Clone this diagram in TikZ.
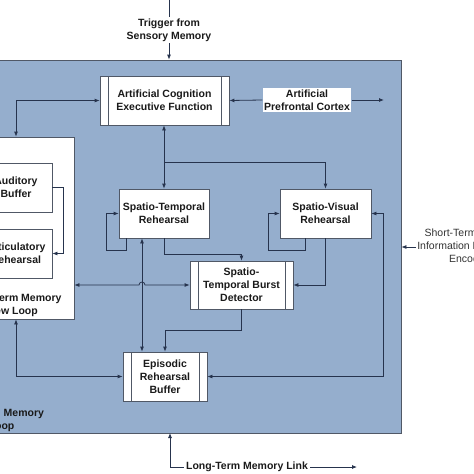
\documentclass[tikz,border=0pt]{standalone}
\usepackage{fontspec}
\setmainfont{Liberation Sans}
\usetikzlibrary{arrows.meta,calc}

\definecolor{wmblue}{HTML}{95AECD}
\definecolor{linkcol}{HTML}{26334D}
\definecolor{edgecol}{HTML}{505866}
\definecolor{textcol}{HTML}{1A1A1A}

\begin{document}
\begin{tikzpicture}[x=1pt, y=-1pt, text=textcol,
		font=\fontsize{10.5}{13}\selectfont\bfseries,
		>={Latex[length=5pt,width=4pt]},
		link/.style={draw=linkcol, line width=0.8pt},
		box/.style={draw=edgecol, fill=white, line width=0.8pt, align=center, inner sep=0pt},
		procbox/.style={box, path picture={
				\draw[edgecol, line width=0.8pt]
				([xshift=8pt]path picture bounding box.north west) -- ([xshift=8pt]path picture bounding box.south west)
				([xshift=-8pt]path picture bounding box.north east) -- ([xshift=-8pt]path picture bounding box.south east);}},
		tag/.style={fill=white, align=center, inner sep=1.5pt}]
		
		\useasboundingbox (0,0) rectangle (474,474);
		\clip (0,0) rectangle (474,474);
		
		% 1. Working memory area (blue, runs off the left edge)
		\node[draw=edgecol, fill=wmblue, line width=0.8pt, minimum width=501pt, minimum height=373pt, inner sep=0pt] (wm) at (150.5,246.5) {};
		\node[align=center] (wmlabel) at (1.5,420.5) {Working Memory\\Loop};
		
		% 2. Short-term memory loop (white, left)
		\node[box, minimum width=116pt, minimum height=182pt] (stm) at (16,228) {};
		\node[box, minimum width=72pt, minimum height=49pt] (aud) at (16,187.5) {Auditory\\Buffer};
		\node[box, minimum width=72pt, minimum height=49pt] (art) at (16,253.5) {Articulatory\\Rehearsal};
		\node[align=left, anchor=west] (stmlabel) at (-41,305) {Short-Term Memory\\Overview Loop};
		
		% 3. Main blocks
		\node[procbox, minimum width=129pt, minimum height=49pt] (acef) at (164.5,100.5) {Artificial Cognition\\Executive Function};
		\node[box, minimum width=90pt, minimum height=49pt] (str) at (164,213.5) {Spatio-Temporal\\Rehearsal};
		\node[box, minimum width=91pt, minimum height=49pt] (svr) at (325.5,213.5) {Spatio-Visual\\Rehearsal};
		\node[procbox, minimum width=103pt, minimum height=48pt] (stbd) at (241.5,285) {Spatio-\\Temporal Burst\\Detector};
		\node[procbox, minimum width=84pt, minimum height=49pt] (erb) at (165,376.5) {Episodic\\Rehearsal\\Buffer};
		
		% 4. Outside links
		\coordinate (trig) at (169,0);
		\draw[link, ->] (trig) -- (trig |- wm.north) node[tag, midway] (triglabel) {Trigger from\\Sensory Memory};
		
		\node[tag] (apc) at (307,100) {Artificial\\Prefrontal Cortex};
		\coordinate (apcend) at (384,100);
		\draw[link, ->] (apc.west) -- (acef.east);
		\draw[link, ->] (apc.east) -- (apcend);
		
		\node[align=center, inner sep=1pt, font=\fontsize{10.5}{13}\selectfont\mdseries, text=black!80] (sti) at (471,247) {Short-Term Memory\\Information Processing\\Encoding};
		\draw[link, ->] (sti.west) -- (sti.west -| wm.east);
		
		\node[inner sep=2pt] (ltm) at (247,467) {Long-Term Memory Link};
		\coordinate (ltmin) at (170,433);
		\coordinate (ltmend) at (357,467);
		\draw[link, ->] (ltm.west) -| (ltmin);
		\draw[link, ->] (ltm.east) -- (ltmend);
		
		% 5. Inner links
		\draw[link, <->] (acef.west) -| (stm.north);
		\draw[link, <->] (acef.south -| str.north) -- (str.north);
		\coordinate (fork) at (164,162);
		\draw[link, ->] (fork) -| (svr.north);
		
		\draw[link, ->] (aud.east) -- ++(11,0) |- (art.east);
		
		% self loops
		\draw[link, ->] ([xshift=-38pt]str.south) -- ++(0,12) -| ([xshift=-12pt]str.west) -- (str.west);
		\draw[link, ->] ([xshift=-20pt]svr.south) -- ++(0,12) -| ([xshift=-11pt]svr.west) -- (svr.west);
		
		\draw[link, ->] (str.south) -- ++(0,16) -| (stbd.north);
		\draw[link, ->] (svr.south) |- (stbd.east);
		\draw[link, ->] (stbd.south) -- ++(0,21) -| (erb.north);
		
		\coordinate (hop) at ([xshift=-22pt]str.south |- stbd.west);
		\draw[link, <->] ([xshift=-22pt]str.south) -- ([xshift=-22pt]str.south |- erb.north);
		\draw[link, <->] (stbd.west -| stm.east) -- ([xshift=-3pt]hop) arc (180:0:3pt) -- (stbd.west);
		
		\draw[link, <->] (stm.south) |- (erb.west);
		\draw[link, <->] (svr.east) -- ++(12,0) |- (erb.east);
		
	\end{tikzpicture}
\end{document}
